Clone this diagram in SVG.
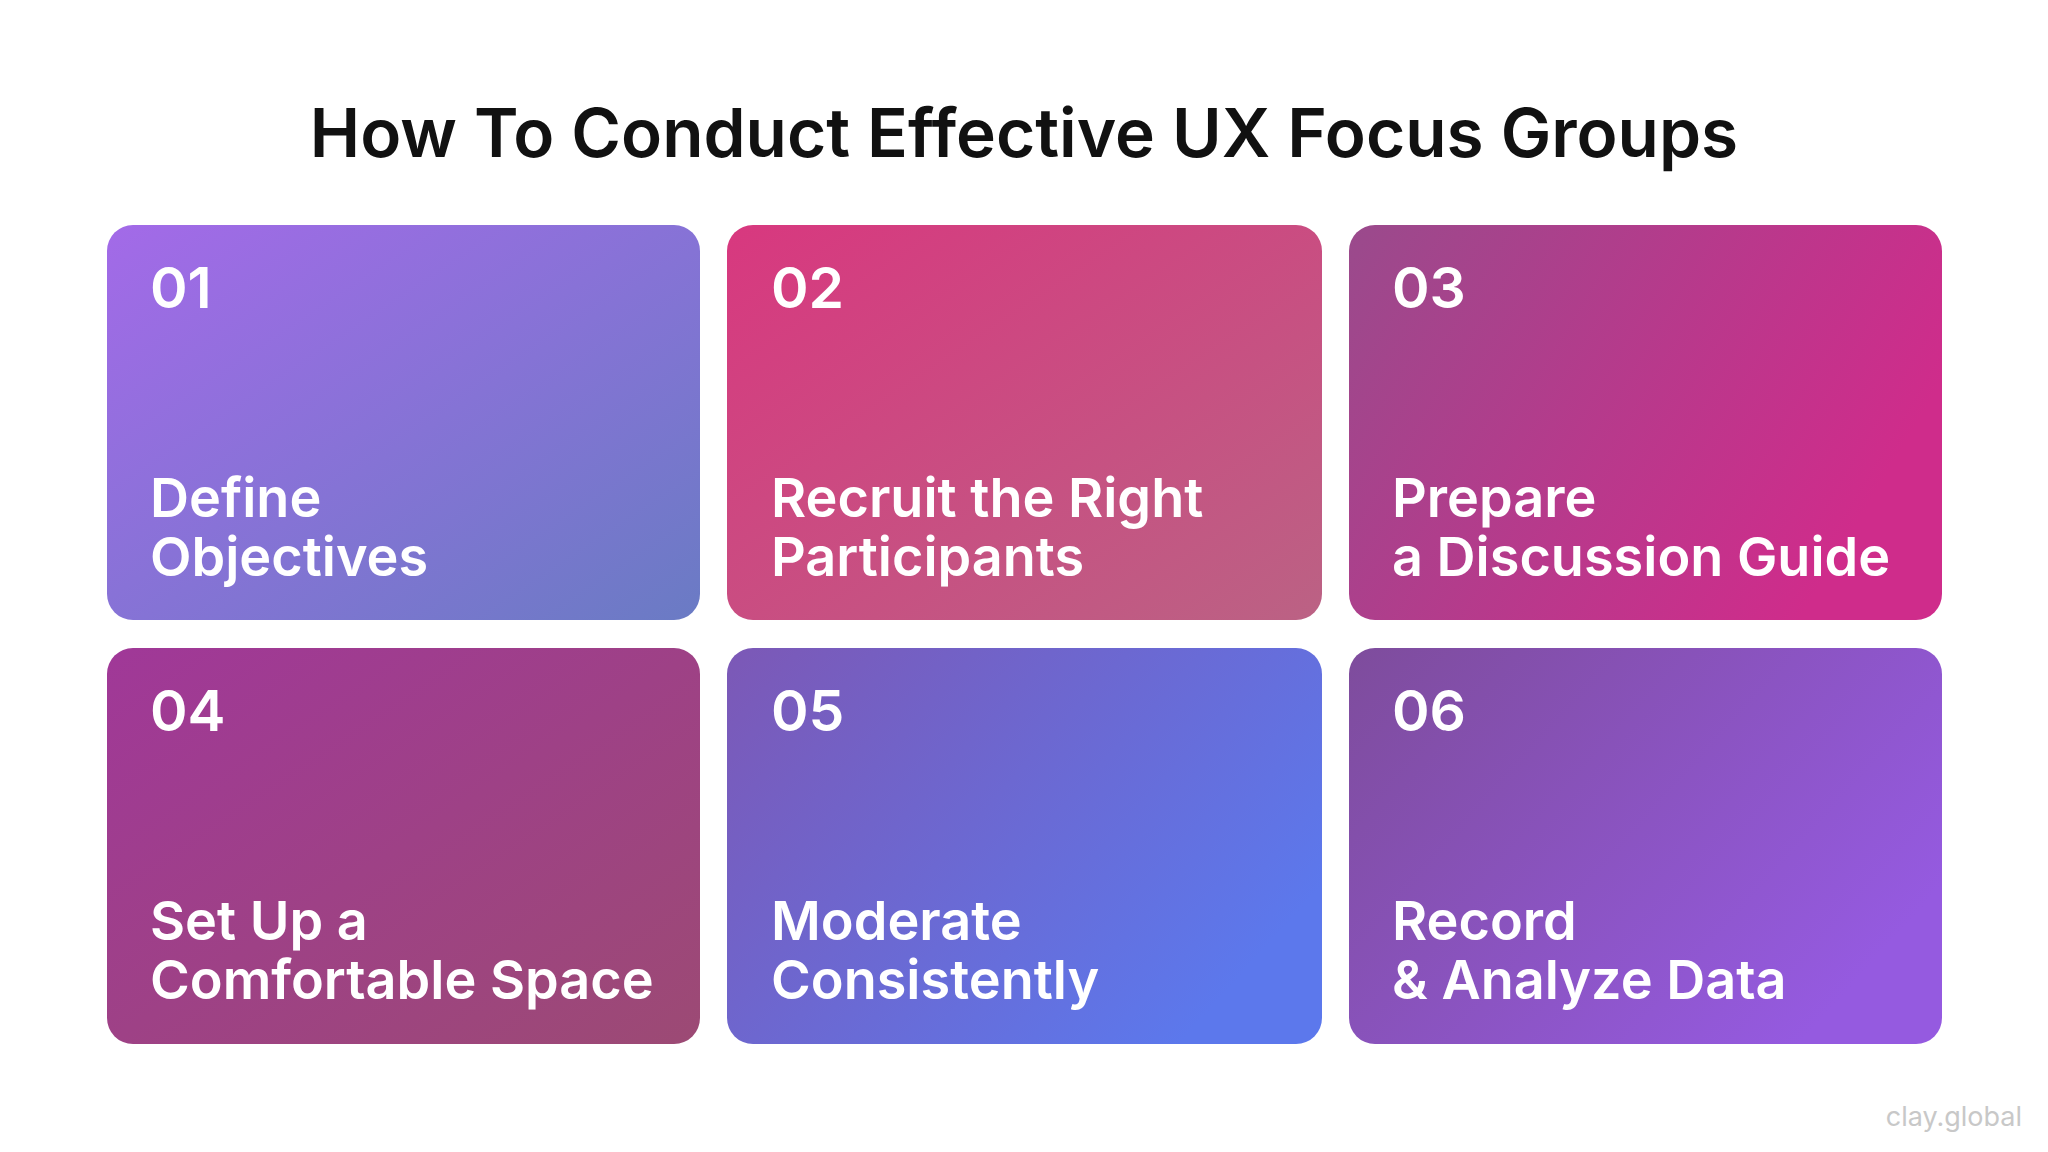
<svg xmlns="http://www.w3.org/2000/svg" width="2048" height="1152" viewBox="0 0 2048 1152">
<defs>
<linearGradient id="g1" x1="0" y1="0" x2="1" y2="1"><stop offset="0" stop-color="#a36ae8"/><stop offset="1" stop-color="#6a7bc4"/></linearGradient>
<linearGradient id="g2" x1="0" y1="0" x2="1" y2="1"><stop offset="0" stop-color="#d8387f"/><stop offset="1" stop-color="#bb6284"/></linearGradient>
<linearGradient id="g3" x1="0" y1="0" x2="1" y2="0.4"><stop offset="0" stop-color="#9a4a8c"/><stop offset="1" stop-color="#cf2c8b"/></linearGradient>
<linearGradient id="g4" x1="0" y1="0" x2="1" y2="1"><stop offset="0" stop-color="#a03898"/><stop offset="1" stop-color="#9c4a74"/></linearGradient>
<linearGradient id="g5" x1="0" y1="0" x2="1" y2="0.6"><stop offset="0" stop-color="#7c58b6"/><stop offset="1" stop-color="#5c78ec"/></linearGradient>
<linearGradient id="g6" x1="0" y1="0" x2="1" y2="0.6"><stop offset="0" stop-color="#7e4c9c"/><stop offset="1" stop-color="#955ae0"/></linearGradient>
</defs>
<style>
.t{font-family:Inter,"Noto Sans",sans-serif;font-weight:600;fill:#fff}
.n{font-size:57px}
.l{font-size:54px}
</style>
<rect width="2048" height="1152" fill="#fff"/>
<text x="1024" y="157" text-anchor="middle" style="font-family:Inter,'Noto Sans',sans-serif;font-weight:600;font-size:67.5px;fill:#111">How To Conduct Effective UX Focus Groups</text>
<g id="n1"><rect x="107" y="225" width="593" height="395" rx="26" fill="url(#g1)"/><text class="t n" x="150" y="308">01</text><text class="t l" x="150" y="517">Define</text><text class="t l" x="150" y="576">Objectives</text></g>
<g id="n2"><rect x="727" y="225" width="595" height="395" rx="26" fill="url(#g2)"/><text class="t n" x="771" y="308">02</text><text class="t l" x="771" y="517">Recruit the Right</text><text class="t l" x="771" y="576">Participants</text></g>
<g id="n3"><rect x="1349" y="225" width="593" height="395" rx="26" fill="url(#g3)"/><text class="t n" x="1392" y="308">03</text><text class="t l" x="1392" y="517">Prepare</text><text class="t l" x="1392" y="576">a Discussion Guide</text></g>
<g id="n4"><rect x="107" y="648" width="593" height="396" rx="26" fill="url(#g4)"/><text class="t n" x="150" y="731">04</text><text class="t l" x="150" y="940">Set Up a</text><text class="t l" x="150" y="999">Comfortable Space</text></g>
<g id="n5"><rect x="727" y="648" width="595" height="396" rx="26" fill="url(#g5)"/><text class="t n" x="771" y="731">05</text><text class="t l" x="771" y="940">Moderate</text><text class="t l" x="771" y="999">Consistently</text></g>
<g id="n6"><rect x="1349" y="648" width="593" height="396" rx="26" fill="url(#g6)"/><text class="t n" x="1392" y="731">06</text><text class="t l" x="1392" y="940">Record</text><text class="t l" x="1392" y="999">&amp; Analyze Data</text></g>
<g id="connectors"/>
<text x="2022" y="1126" text-anchor="end" style="font-family:Inter,'Noto Sans',sans-serif;font-size:27px;fill:#c8c8c8">clay.global</text>
</svg>
